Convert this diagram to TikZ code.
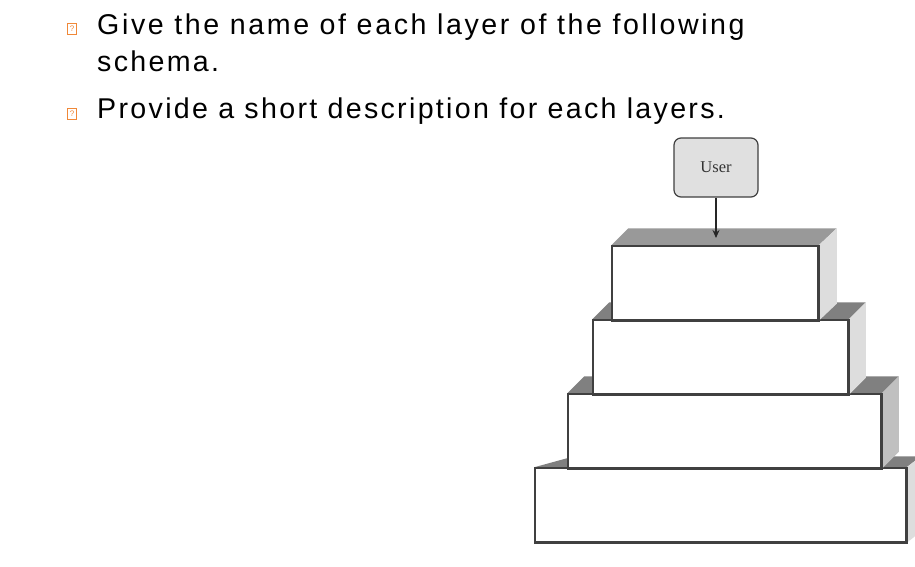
\documentclass[tikz,border=0pt]{standalone}
\usepackage{fontspec}
\setmainfont{Liberation Sans}
\newfontfamily\fa[LetterSpace=9.1]{Liberation Sans}
\newfontfamily\fb[LetterSpace=8.1]{Liberation Sans}
\newfontfamily\fser{Liberation Serif}
\usetikzlibrary{arrows.meta}
\definecolor{edgec}{HTML}{404040}
\definecolor{topa}{HTML}{999999}
\definecolor{topb}{HTML}{808080}
\definecolor{sidea}{HTML}{DDDDDD}
\definecolor{sideb}{HTML}{C0C0C0}
\definecolor{bulc}{HTML}{F08838}
\definecolor{userfill}{HTML}{E0E0E0}
\tikzset{
  front/.style={draw=edgec, fill=white, line width=1.5pt, inner sep=0pt},
  bul/.style={draw=bulc, line width=0.6pt, inner sep=0pt, minimum width=9pt, minimum height=11pt, text=bulc, font=\fontsize{8}{8}\selectfont},
  line1/.style={anchor=base west, inner sep=0pt, font=\fa\fontsize{28.6}{30}\selectfont},
  line2/.style={anchor=base west, inner sep=0pt, font=\fb\fontsize{28.6}{30}\selectfont},
  userbox/.style={draw=edgec, fill=userfill, line width=1.2pt, rounded corners=7pt, minimum width=84pt, minimum height=59pt, inner sep=0pt, font=\fser\fontsize{16.5}{17}\selectfont, text=black!80},
  conn/.style={draw=black!85, line width=1.1pt, -{Stealth[length=8pt,width=7pt]}}
}
\begin{document}
\begin{tikzpicture}[x=1pt,y=-1pt]
\useasboundingbox (0,0) rectangle (915,567);
\fill[white] (0,0) rectangle (915,567);

% text
\node[bul] (b1) at (72,28.5) {?};
\node[line1] (t1) at (97,35) {Give the name of each layer of the following};
\node[line2] (t2) at (97,72) {schema.};
\node[bul] (b2) at (72,113.5) {?};
\node[line2] (t3) at (97,118) {Provide a short description for each layers.};

% layer 4 (bottom)
\node[front, minimum width=371pt, minimum height=74pt] (l4) at (720.5,505) {};
\fill[topb] (l4.north west) -- ([shift={(40,-11)}]l4.north west) -- ([shift={(14,-11)}]l4.north east) -- (l4.north east) -- cycle;
\fill[sidea] (l4.north east) -- ([shift={(14,-11)}]l4.north east) -- ([shift={(14,-11)}]l4.south east) -- (l4.south east) -- cycle;
\draw[edgec, line width=1.5pt] (l4.north west) rectangle (l4.south east);

% layer 3
\node[front, minimum width=313pt, minimum height=74pt] (l3) at (724.5,431) {};
\fill[topb] (l3.north west) -- ([shift={(17,-17)}]l3.north west) -- ([shift={(17,-17)}]l3.north east) -- (l3.north east) -- cycle;
\fill[sideb] (l3.north east) -- ([shift={(17,-17)}]l3.north east) -- ([shift={(17,-17)}]l3.south east) -- (l3.south east) -- cycle;
\draw[edgec, line width=1.5pt] (l3.north west) rectangle (l3.south east);

% layer 2
\node[front, minimum width=255pt, minimum height=74pt] (l2) at (720.5,357) {};
\fill[topb] (l2.north west) -- ([shift={(17,-17)}]l2.north west) -- ([shift={(17,-17)}]l2.north east) -- (l2.north east) -- cycle;
\fill[sidea] (l2.north east) -- ([shift={(17,-17)}]l2.north east) -- ([shift={(17,-17)}]l2.south east) -- (l2.south east) -- cycle;
\draw[edgec, line width=1.5pt] (l2.north west) rectangle (l2.south east);

% layer 1 (top)
\node[front, minimum width=206pt, minimum height=74pt] (l1) at (715,283) {};
\fill[topa] (l1.north west) -- ([shift={(17,-17)}]l1.north west) -- ([shift={(18,-17)}]l1.north east) -- (l1.north east) -- cycle;
\fill[sidea] (l1.north east) -- ([shift={(18,-17)}]l1.north east) -- ([shift={(18,-17)}]l1.south east) -- (l1.south east) -- cycle;
\draw[edgec, line width=1.5pt] (l1.north west) rectangle (l1.south east);

% user
\node[userbox] (user) at (716,167.5) {User};
\coordinate (tip) at (716,238);
\draw[conn] (user) -- (tip);
\end{tikzpicture}
\end{document}
